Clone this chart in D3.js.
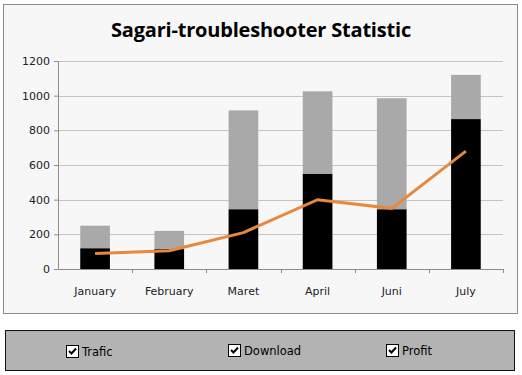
<!DOCTYPE html>
<html>
<head>
<meta charset="utf-8">
<script src="https://cdn.jsdelivr.net/npm/d3@7"></script>
<style>
  body { margin: 0; background: #ffffff; }
  svg { display: block; }
</style>
</head>
<body>
<div id="chart"></div>
<script>
// data
var months = ["January", "February", "Maret", "April", "Juni", "July"];
var trafic = [120, 115, 345, 550, 345, 865];
var download = [130, 105, 570, 475, 640, 255];
var profit = [90, 105, 210, 400, 350, 680];
var yTicks = [0, 200, 400, 600, 800, 1000, 1200];
var legendNames = ["Trafic", "Download", "Profit"];

var W = 522, H = 375;
var margin = { top: 61, right: 19, bottom: 106, left: 58 };
var width = W - margin.left - margin.right;
var height = H - margin.top - margin.bottom;

var svg = d3.select("#chart")
  .append("svg")
    .attr("width", W)
    .attr("height", H);

// chart frame
svg.append("rect")
  .attr("x", 3.5).attr("y", 4.5)
  .attr("width", 514).attr("height", 309)
  .attr("fill", "#f7f7f7")
  .attr("stroke", "#8a8a8a");

svg.append("text")
  .attr("x", 261).attr("y", 37)
  .attr("text-anchor", "middle")
  .style("font-family", "'Open Sans', sans-serif")
  .style("font-weight", "bold")
  .style("font-size", "20px")
  .style("letter-spacing", "-0.2px")
  .text("Sagari-troubleshooter Statistic");

var g = svg.append("g")
  .attr("transform", `translate(${margin.left},${margin.top})`);

var x = d3.scaleBand()
  .domain(months)
  .range([0, width])
  .paddingInner(0.6)
  .paddingOuter(0.3);

var xb = d3.scaleBand().domain(months).range([0, width]);

var y = d3.scaleLinear()
  .domain([0, 1200])
  .range([height, 0]);

// gridlines
g.selectAll(".grid")
  .data(yTicks.slice(1))
  .enter().append("line")
    .attr("x1", 0).attr("x2", width)
    .attr("y1", d => Math.round(y(d)) + 0.5)
    .attr("y2", d => Math.round(y(d)) + 0.5)
    .attr("stroke", "#c4c4c4");

// y axis
var yAxis = g.append("g")
  .call(d3.axisLeft(y).tickValues(yTicks).tickFormat(d3.format("d")).tickSize(4).tickPadding(4));
yAxis.select(".domain").attr("stroke", "#8c8c8c");
yAxis.selectAll("line").attr("stroke", "#8c8c8c");
yAxis.selectAll("text")
  .style("font-family", "'DejaVu Sans', sans-serif")
  .style("font-size", "11px")
  .attr("fill", "#222");

// bars, stacked
var stackData = months.map((m, i) => ({ month: m, trafic: trafic[i], download: download[i] }));
var series = d3.stack().keys(["trafic", "download"])(stackData);
var barColor = { trafic: "#000000", download: "#a9a9a9" };

g.selectAll(".serie")
  .data(series)
  .enter().append("g")
    .attr("fill", d => barColor[d.key])
  .selectAll("rect")
  .data(d => d)
  .enter().append("rect")
    .attr("x", d => x(d.data.month))
    .attr("y", d => y(d[1]))
    .attr("width", x.bandwidth())
    .attr("height", d => y(d[0]) - y(d[1]));

// x axis
var xAxis = g.append("g")
  .attr("transform", "translate(0," + height + ")")
  .call(d3.axisBottom(xb).tickSize(0).tickPadding(18));
xAxis.select(".domain").attr("stroke", "#8c8c8c");
xAxis.selectAll("text")
  .style("font-family", "'DejaVu Sans', sans-serif")
  .style("font-size", "11px")
  .attr("fill", "#222");

// category separator ticks
g.selectAll(".xtick")
  .data(months.slice(1).concat(["end"]))
  .enter().append("line")
    .attr("x1", (d, i) => Math.round(xb.step() * (i + 1)) + 0.5)
    .attr("x2", (d, i) => Math.round(xb.step() * (i + 1)) + 0.5)
    .attr("y1", height).attr("y2", height + 4)
    .attr("stroke", "#8c8c8c");

// profit line
var line = d3.line()
  .x((d, i) => xb(months[i]) + xb.bandwidth() / 2)
  .y(d => y(d));

g.append("path")
  .datum(profit)
  .attr("fill", "none")
  .attr("stroke", "#e8883c")
  .attr("stroke-width", 3)
  .attr("d", line);

// bottom panel with checkboxes
svg.append("rect")
  .attr("x", 5.5).attr("y", 330.5)
  .attr("width", 509).attr("height", 40)
  .attr("fill", "#b3b3b3")
  .attr("stroke", "#111");

var legendX = [66, 228, 386];
var lg = svg.selectAll(".lg")
  .data(legendNames)
  .enter().append("g")
    .attr("transform", (d, i) => `translate(${legendX[i]},${i === 0 ? 345 : 344})`);

lg.append("rect")
  .attr("x", 0.5).attr("y", 0.5)
  .attr("width", 12).attr("height", 12)
  .attr("fill", "#fff")
  .attr("stroke", "#000");

lg.append("path")
  .attr("d", "M3,6 L5.5,8.5 L10,3.5")
  .attr("fill", "none")
  .attr("stroke", "#000")
  .attr("stroke-width", 2);

lg.append("text")
  .attr("x", 16).attr("y", 11)
  .style("font-family", "'DejaVu Sans', sans-serif")
  .style("font-size", "11.5px")
  .attr("fill", "#000")
  .text(d => d);
</script>
</body>
</html>
